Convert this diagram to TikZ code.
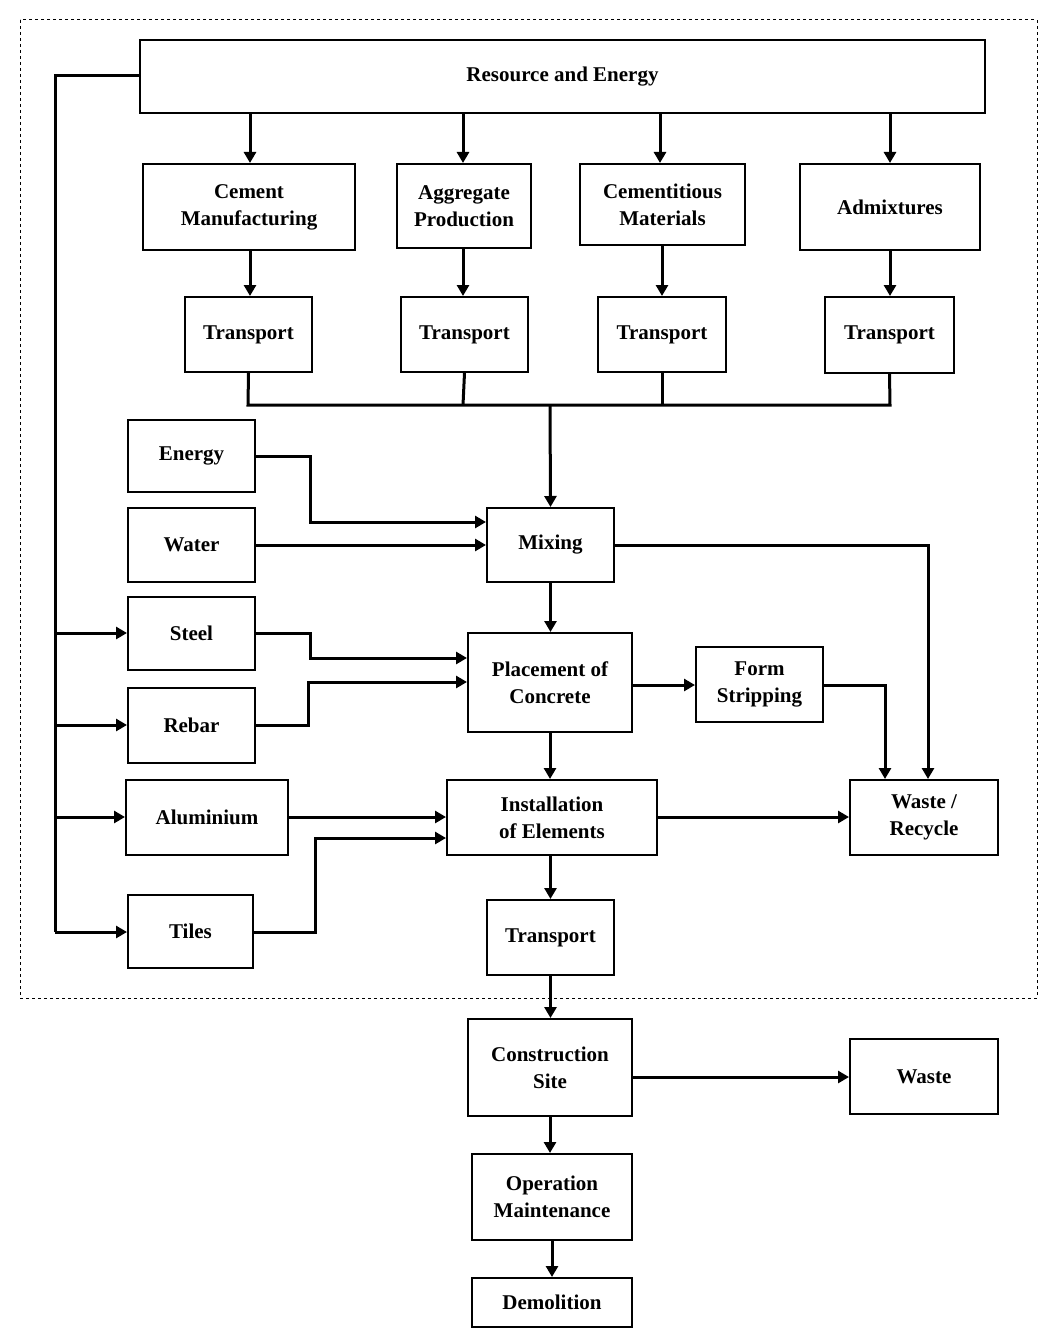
\documentclass[tikz,border=0pt]{standalone}
\usepackage{fontspec}
\setmainfont{Liberation Serif}
\usetikzlibrary{arrows.meta}
\begin{document}
\begin{tikzpicture}[x=1pt,y=-1pt,
  bx/.style={draw,line width=2pt,font=\bfseries\fontsize{21}{27}\selectfont,align=center,inner sep=0pt},
  ln/.style={line width=3pt},
  ar/.style={line width=3pt,-{Triangle[length=11pt,width=12pt]}}]
\useasboundingbox (0,0) rectangle (1054,1340);
\draw[dashed,line width=1pt] (20,20) rectangle (1037,998);
\newcommand{\bx}[6]{\node[bx,minimum width=#4-#2,minimum height=#5-#3] (#1) at ({(#2+#4)/2},{(#3+#5)/2}) {#6};}
\bx{res}{140}{40}{985}{113}{Resource and Energy}
\bx{cem}{143}{164}{355}{250}{Cement\\Manufacturing}
\bx{agg}{397}{164}{531}{248}{Aggregate\\Production}
\bx{cmt}{580}{164}{745}{245}{Cementitious\\Materials}
\bx{adm}{800}{164}{980}{250}{Admixtures}
\bx{t1}{185}{297}{312}{372}{Transport}
\bx{t2}{401}{297}{528}{372}{Transport}
\bx{t3}{598}{297}{726}{372}{Transport}
\bx{t4}{825}{297}{954}{373}{Transport}
\bx{ene}{128}{420}{255}{492}{Energy}
\bx{wat}{128}{508}{255}{582}{Water}
\bx{ste}{128}{597}{255}{670}{Steel}
\bx{reb}{128}{688}{255}{763}{Rebar}
\bx{alu}{126}{780}{288}{855}{Aluminium}
\bx{til}{128}{895}{253}{968}{Tiles}
\bx{mix}{487}{508}{614}{582}{Mixing}
\bx{pla}{468}{633}{632}{732}{Placement of\\Concrete}
\bx{frm}{696}{647}{823}{722}{Form\\Stripping}
\bx{ins}{447}{780}{657}{855}{Installation\\of Elements}
\bx{wr}{850}{780}{998}{855}{Waste /\\Recycle}
\bx{tb}{487}{900}{614}{975}{Transport}
\bx{con}{468}{1019}{632}{1116}{Construction\\Site}
\bx{was}{850}{1039}{998}{1114}{Waste}
\bx{ope}{472}{1154}{632}{1240}{Operation\\Maintenance}
\bx{dem}{472}{1278}{632}{1327}{Demolition}
\coordinate (bus) at (550,405);
\coordinate (lx) at (55,76);
\foreach \n/\x in {cem/250,agg/463,cmt/660,adm/890}
  \draw[ar] (\x,113) -- (\x,0|-\n.north);
\foreach \a/\b/\x in {cem/t1/250,agg/t2/463,cmt/t3/662,adm/t4/890}
  \draw[ar] (\x,0|-\a.south) -- (\x,0|-\b.north);
\draw[ln] (t1.south) -- (248,405) -- (890,405) -- (t4.south);
\draw[ln] (t2.south) -- (463,405);
\draw[ln] (662,372) -- (662,405);
\draw[ar] (bus) -- (mix.north);
\draw[ln] (res.west|-lx) -- (lx) -- (55,932);
\draw[ar] (55,633) -- (ste.west|-0,633);
\draw[ar] (55,725) -- (reb.west|-0,725);
\draw[ar] (55,817) -- (alu.west|-0,817);
\draw[ar] (55,932) -- (til.west|-0,932);
\draw[ar] (ene.east|-0,456) -- (310,456) -- (310,522) -- (mix.west|-0,522);
\draw[ar] (wat.east|-0,545) -- (mix.west|-0,545);
\draw[ar] (mix.east|-0,545) -- (928,545) -- (928,0|-wr.north);
\draw[ar] (ste.east|-0,633) -- (310,633) -- (310,658) -- (pla.west|-0,658);
\draw[ar] (reb.east|-0,725) -- (308,725) -- (308,682) -- (pla.west|-0,682);
\draw[ar] (pla.east|-0,685) -- (frm.west|-0,685);
\draw[ar] (frm.east|-0,685) -- (885,685) -- (885,0|-wr.north);
\draw[ar] (alu.east|-0,817) -- (ins.west|-0,817);
\draw[ar] (til.east|-0,932) -- (315,932) -- (315,838) -- (ins.west|-0,838);
\draw[ar] (ins.east|-0,817) -- (wr.west|-0,817);
\draw[ar] (mix.south) -- (pla.north-|mix.south);
\draw[ar] (pla.south) -- (ins.north-|pla.south);
\draw[ar] (ins.south-|tb.north) -- (tb.north);
\draw[ar] (tb.south) -- (con.north-|tb.south);
\draw[ar] (con.south) -- (ope.north-|con.south);
\draw[ar] (ope.south) -- (dem.north-|ope.south);
\draw[ar] (con.east|-0,1077) -- (was.west|-0,1077);
\end{tikzpicture}
\end{document}
